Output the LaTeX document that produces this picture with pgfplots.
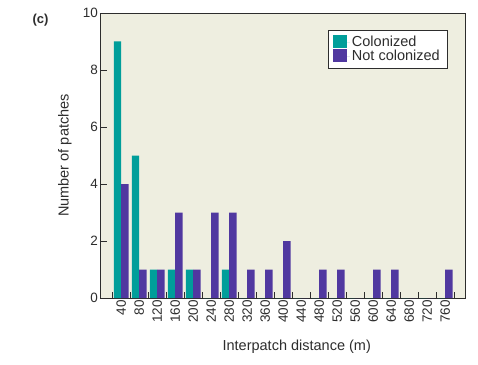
\documentclass[border=0pt]{standalone}
\usepackage{fontspec}
\setmainfont{Liberation Sans}
\usepackage{pgfplots}
\pgfplotsset{compat=1.18}
\definecolor{colteal}{RGB}{0,158,154}
\definecolor{colpurple}{RGB}{80,56,160}
\definecolor{bgbeige}{RGB}{238,238,224}
\definecolor{txt}{RGB}{45,45,45}
\begin{document}
\begin{tikzpicture}
\useasboundingbox (-100pt,-66pt) rectangle (378pt,298pt);
\begin{axis}[
  at={(0,0)}, anchor=south west,
  scale only axis,
  width=365pt, height=285pt,
  ybar=0pt, bar width=7.3pt,
  xmin=-1.18, xmax=19.1,
  ymin=0, ymax=10,
  ytick={0,2,...,10},
  xtick={0,...,18},
  xticklabels={40,80,120,160,200,240,280,320,360,400,440,480,520,560,600,640,680,720,760},
  minor xtick={-0.5,0.5,...,18.5},
  xtick pos=bottom, ytick pos=left,
  tick align=inside,
  major tick length=6.5pt,
  minor tick length=6.5pt,
  tick style={color=txt, line width=0.8pt},
  major x tick style={draw=none},
  axis line style={color=txt, line width=0.9pt},
  axis background/.style={fill=bgbeige},
  /pgf/number format/assume math mode=true,
  ticklabel style={font=\fontsize{13.5}{15}\selectfont, text=txt},
  xticklabel style={rotate=90, anchor=east, inner sep=2pt},
  yticklabel style={inner sep=2pt},
  xlabel={Interpatch distance (m)},
  ylabel={Number of patches},
  label style={font=\fontsize{14.5}{17}\selectfont, text=txt},
  xlabel style={at={(rel axis cs:0.539,-0.171)}, anchor=center},
  ylabel style={at={(rel axis cs:-0.096,0.5)}, anchor=center},
  legend style={at={(rel axis cs:0.951,0.94)}, anchor=north east,
    draw=txt, line width=0.6pt, fill=white,
    font=\fontsize{14.5}{17}\selectfont, text=txt,
    inner xsep=5pt, inner ysep=4pt, row sep=-2pt},
  legend cell align=left,
  legend image code/.code={\fill[#1] (0pt,-6pt) rectangle (13.5pt,7pt); \path (0pt,0pt) -- (16.5pt,0pt);},
  clip=false,
]
\addplot[fill=colteal, draw=none] coordinates {
 (0,9) (1,5) (2,1) (3,1) (4,1) (5,0) (6,1) (7,0) (8,0) (9,0)
 (10,0) (11,0) (12,0) (13,0) (14,0) (15,0) (16,0) (17,0) (18,0)};
\addplot[fill=colpurple, draw=none] coordinates {
 (0,4) (1,1) (2,1) (3,3) (4,1) (5,3) (6,3) (7,1) (8,1) (9,2)
 (10,0) (11,1) (12,1) (13,0) (14,1) (15,1) (16,0) (17,0) (18,1)};
\legend{Colonized, Not colonized}
\node[font=\bfseries\fontsize{13}{15}\selectfont, text=txt] at (rel axis cs:-0.163,0.975) {(c)};
\end{axis}
\end{tikzpicture}
\end{document}
